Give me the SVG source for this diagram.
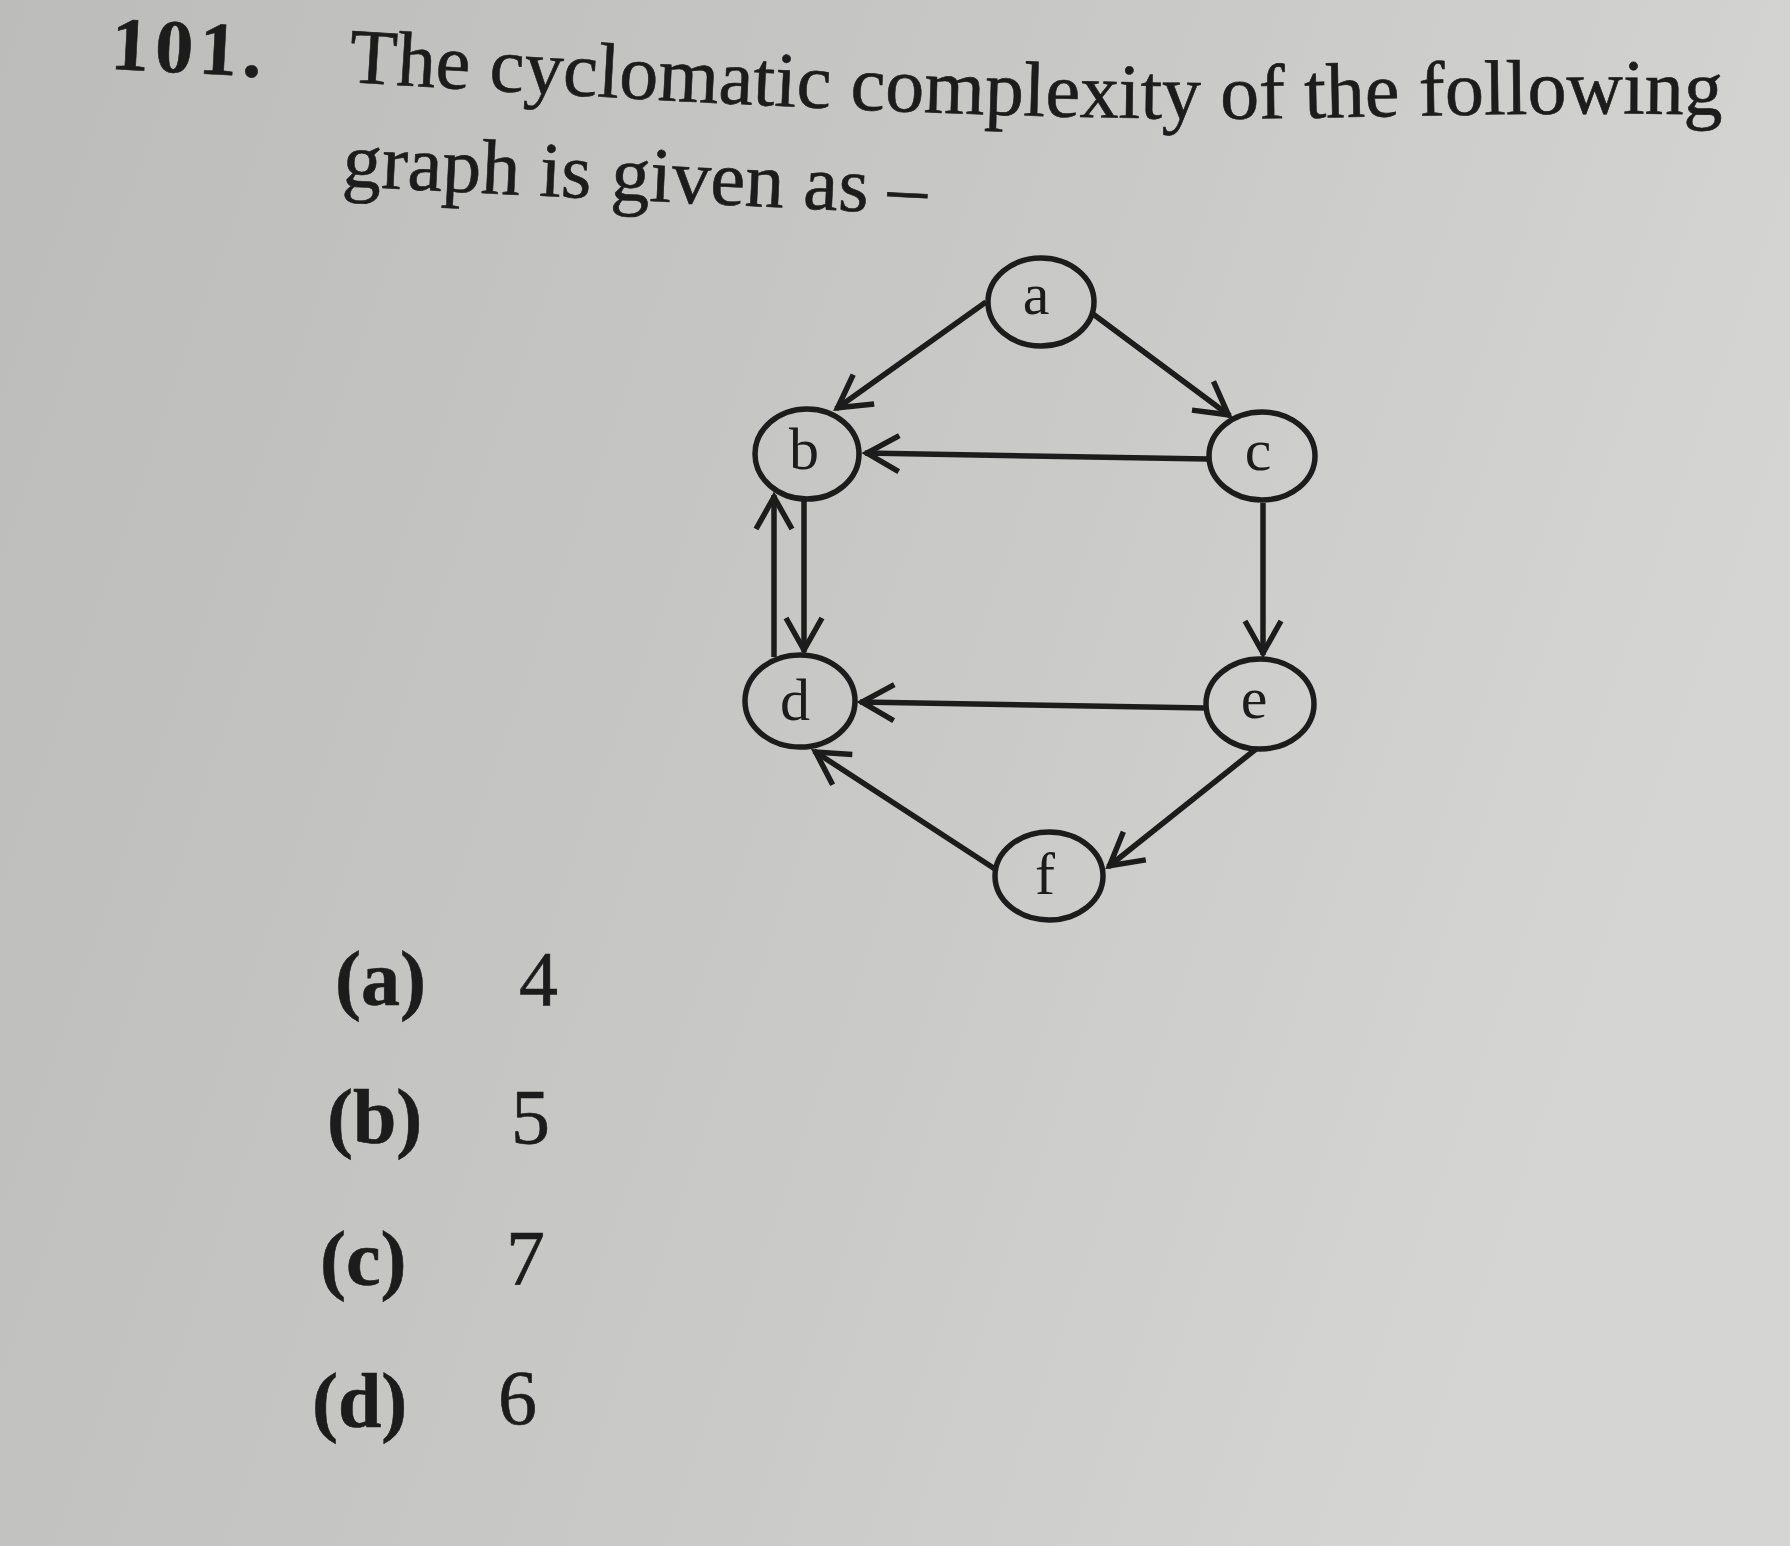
<svg xmlns="http://www.w3.org/2000/svg" width="1790" height="1546" viewBox="0 0 1790 1546">
<defs>
<linearGradient id="paper" x1="0" y1="0" x2="1" y2="0.3">
<stop offset="0" stop-color="#bcbcba"/>
<stop offset="0.6" stop-color="#c9c9c7"/>
<stop offset="1" stop-color="#d5d5d3"/>
</linearGradient>
<path id="line1" d="M348,82 C800,110 1100,122 1300,118 S1600,112 1740,115"/>
<path id="line2" d="M342,186 Q600,199 940,215"/>
<marker id="arr" markerUnits="userSpaceOnUse" markerWidth="44" markerHeight="44" viewBox="0 0 44 44" refX="40" refY="22" orient="auto" overflow="visible">
<path d="M6,4 L38,22 L6,40" fill="none" stroke="#1c1c1c" stroke-width="5.5" stroke-linejoin="miter"/>
</marker>
<style>
.t{font-family:"Liberation Serif","Times New Roman",serif;fill:#1c1c1c;stroke:#1c1c1c;stroke-width:0.6}
.node ellipse{fill:none;stroke:#1c1c1c;stroke-width:5.5}
.node text{font-family:"Liberation Serif","Times New Roman",serif;font-size:60px;fill:#1c1c1c;text-anchor:middle}
.edge{stroke:#1c1c1c;stroke-width:5.5;fill:none;marker-end:url(#arr)}
</style>
</defs>
<rect width="1790" height="1546" fill="url(#paper)"/>
<text class="t" x="110" y="69" font-size="76" font-weight="bold" letter-spacing="6" transform="rotate(3 110 69)">101.</text>
<text class="t" font-size="78"><textPath href="#line1">The cyclomatic complexity of the following</textPath></text>
<text class="t" font-size="78"><textPath href="#line2">graph is given as –</textPath></text>
<g id="nodes">
<g id="node-a" class="node"><ellipse cx="1041" cy="302" rx="53" ry="44"/><text x="1036" y="314">a</text></g>
<g id="node-b" class="node"><ellipse cx="807" cy="454" rx="52" ry="45"/><text x="804" y="469">b</text></g>
<g id="node-c" class="node"><ellipse cx="1262" cy="456" rx="53" ry="44"/><text x="1258" y="470">c</text></g>
<g id="node-d" class="node"><ellipse cx="800" cy="701" rx="55" ry="46"/><text x="795" y="720">d</text></g>
<g id="node-e" class="node"><ellipse cx="1260" cy="704" rx="54" ry="45"/><text x="1254" y="718">e</text></g>
<g id="node-f" class="node"><ellipse cx="1049" cy="876" rx="54" ry="44"/><text x="1045" y="894">f</text></g>
</g>
<g id="connectors">
<line class="edge" x1="986" y1="302" x2="836" y2="409"/>
<line class="edge" x1="1093" y1="314" x2="1230" y2="416"/>
<line class="edge" x1="1208" y1="459" x2="865" y2="453"/>
<line class="edge" x1="804" y1="498" x2="804" y2="652"/>
<line class="edge" x1="774" y1="657" x2="774" y2="495"/>
<line class="edge" x1="1263" y1="503" x2="1263" y2="655"/>
<line class="edge" x1="1206" y1="708" x2="860" y2="702"/>
<line class="edge" x1="1256" y1="749" x2="1108" y2="867"/>
<line class="edge" x1="995" y1="869" x2="814" y2="751"/>
</g>
<g id="options">
<text class="t" x="335" y="1005" font-size="78" font-weight="bold">(a)</text>
<text class="t" x="519" y="1005" font-size="78">4</text>
<text class="t" x="327" y="1143" font-size="78" font-weight="bold">(b)</text>
<text class="t" x="511" y="1143" font-size="78">5</text>
<text class="t" x="320" y="1285" font-size="78" font-weight="bold">(c)</text>
<text class="t" x="506" y="1284" font-size="78">7</text>
<text class="t" x="312" y="1427" font-size="78" font-weight="bold">(d)</text>
<text class="t" x="498" y="1424" font-size="78">6</text>
</g>
</svg>
